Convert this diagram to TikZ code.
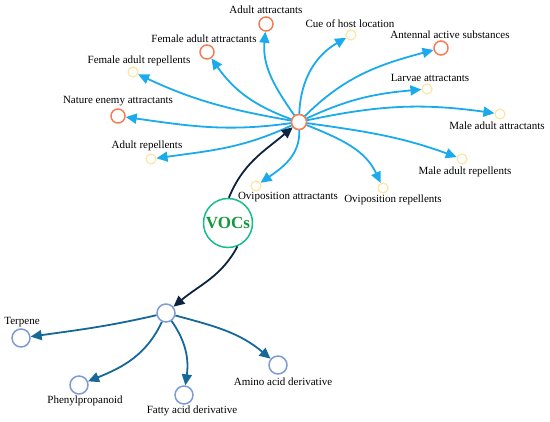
\documentclass[tikz,border=0pt]{standalone}
\usepackage{fontspec}
\setmainfont{Liberation Serif}
\usetikzlibrary{arrows.meta}
\definecolor{sky}{RGB}{27,170,235}
\definecolor{navy}{RGB}{14,35,64}
\definecolor{steel}{RGB}{21,104,152}
\definecolor{orng}{RGB}{245,125,85}
\definecolor{yel}{RGB}{253,230,165}
\definecolor{lblue}{RGB}{125,156,214}
\definecolor{teal2}{RGB}{22,190,140}
\definecolor{vgreen}{RGB}{20,150,60}
\tikzset{
  big/.style={circle,draw=orng,line width=1.5pt,fill=white,minimum size=14pt,inner sep=0pt},
  small/.style={circle,draw=yel,line width=1.2pt,fill=white,minimum size=10pt,inner sep=0pt},
  low/.style={circle,draw=lblue,line width=1.5pt,fill=white,minimum size=18pt,inner sep=0pt},
  lbl/.style={font=\fontsize{11}{13}\selectfont,inner sep=0pt},
  sarrow/.style={draw=sky,line width=1.8pt,-{Triangle[length=11pt,width=10pt]}},
  narrow/.style={draw=navy,line width=1.8pt,-{Triangle[length=11pt,width=10pt]}},
  larrow/.style={draw=steel,line width=1.8pt,-{Triangle[length=11pt,width=10pt]}},
}
\begin{document}
\begin{tikzpicture}[x=1pt,y=1pt]
\useasboundingbox (0,0) rectangle (550,-422);
% nodes
\node[big,minimum size=15pt] (H) at (299,-122) {};
\node[circle,draw=teal2,line width=1.5pt,fill=white,minimum size=49pt,inner sep=0pt,text=vgreen,font=\fontsize{17}{19}\selectfont\bfseries] (V) at (228,-223) {VOCs};
\node[low] (L) at (166,-313) {};

\node[big] (A) at (266,-24) {};
\node[big] (F) at (207,-52) {};
\node[small] (FR) at (133,-72) {};
\node[big] (NE) at (118,-116) {};
\node[small] (AR) at (151,-159) {};
\node[small] (OA) at (256,-186) {};
\node[small] (C) at (351,-35) {};
\node[big] (AS) at (441,-48) {};
\node[small] (LA) at (427,-89) {};
\node[small] (MA) at (500,-114) {};
\node[small] (MR) at (462,-159) {};
\node[small] (OR) at (383,-188) {};

\node[low] (T) at (21,-338) {};
\node[low] (P) at (79,-385) {};
\node[low] (FA) at (184,-395) {};
\node[low] (AA) at (278,-365) {};

% labels
\node[lbl] (tA) at (266,-10) {Adult attractants};
\node[lbl] (tF) at (204,-39) {Female adult attractants};
\node[lbl] (tFR) at (139,-61) {Female adult repellents};
\node[lbl] (tNE) at (118,-101) {Nature enemy attractants};
\node[lbl] (tAR) at (147,-146) {Adult repellents};
\node[lbl] (tOA) at (288,-197) {Oviposition attractants};
\node[lbl] (tC) at (350,-24) {Cue of host location};
\node[lbl] (tAS) at (450,-35) {Antennal active substances};
\node[lbl] (tLA) at (430,-78) {Larvae attractants};
\node[lbl] (tMA) at (497,-126) {Male adult attractants};
\node[lbl] (tMR) at (465,-172) {Male adult repellents};
\node[lbl] (tOR) at (393,-200) {Oviposition repellents};
\node[lbl] (tT) at (22,-322) {Terpene};
\node[lbl] (tP) at (85,-401) {Phenylpropanoid};
\node[lbl] (tFA) at (192,-411) {Fatty acid derivative};
\node[lbl] (tAA) at (283,-382) {Amino acid derivative};

% connectors
\draw[sarrow] (H) to[out=125,in=-95] (A);
\draw[sarrow] (H) to[out=160,in=-55] (F);
\draw[sarrow] (H) to[out=170,in=-25] (FR);
\draw[sarrow] (H) to[out=188,in=-8] (NE);
\draw[sarrow] (H) to[out=205,in=8] (AR);
\draw[sarrow] (H) to[out=-88,in=35] (OA);
\draw[sarrow] (H) to[out=88,in=-150] (C);
\draw[sarrow] (H) to[out=45,in=-165] (AS);
\draw[sarrow] (H) to[out=25,in=-175] (LA);
\draw[sarrow] (H) to[out=12,in=172] (MA);
\draw[sarrow] (H) to[out=-8,in=160] (MR);
\draw[sarrow] (H) to[out=-22,in=115] (OR);

\draw[narrow] (V.88) to[out=68,in=-140] (H);
\draw[narrow] (V.-68) to[out=-118,in=40] (L);

\draw[larrow] (L) to[out=193,in=8] (T);
\draw[larrow] (L) to[out=-115,in=22] (P);
\draw[larrow] (L) to[out=-55,in=82] (FA);
\draw[larrow] (L) to[out=-15,in=140] (AA);

% redraw hub on top
\node[big,minimum size=15pt] (H2) at (H) {};
\end{tikzpicture}
\end{document}
